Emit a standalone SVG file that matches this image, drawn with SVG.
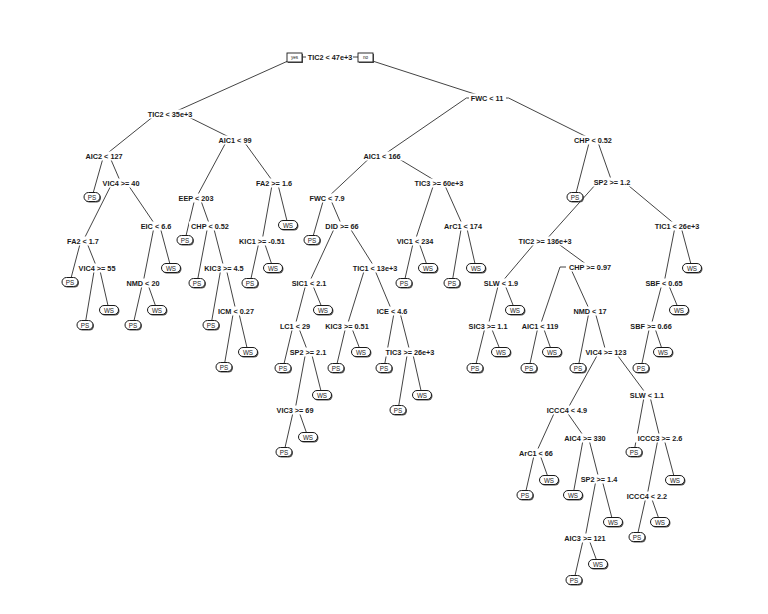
<svg xmlns="http://www.w3.org/2000/svg" xmlns:xlink="http://www.w3.org/1999/xlink" width="768" height="614" viewBox="0 0 768 614">
<style>
.lbl{font-family:"Liberation Sans",Arial,sans-serif;font-size:7.3px;font-weight:bold;text-anchor:middle;dominant-baseline:central;fill:#1a1a1a}
.bg{fill:#fff}
.lf{fill:#fff;stroke:#1a1a1a;stroke-width:1}
.sh{fill:#555}
.lt{font-family:"Liberation Sans",Arial,sans-serif;font-size:6.3px;text-anchor:middle;dominant-baseline:central;fill:#1a1a1a}
.yn{fill:#fff;stroke:#1a1a1a;stroke-width:0.9}
.ynt{font-family:"Liberation Sans",Arial,sans-serif;font-size:4.6px;text-anchor:middle;dominant-baseline:central;fill:#1a1a1a}
#edges path{fill:none;stroke:#444;stroke-width:1}
</style>
<defs>
<g id="psbox"><rect class="sh" x="-7" y="-3.5" width="16" height="9" rx="4.5"/><rect class="lf" x="-8" y="-4.5" width="16" height="9" rx="4.5"/></g>
<g id="wsbox"><rect class="sh" x="-8.5" y="-3.5" width="19" height="9" rx="4.5"/><rect class="lf" x="-9.5" y="-4.5" width="19" height="9" rx="4.5"/></g>
</defs>
<rect width="768" height="614" fill="#fff"/>
<g id="edges">
<path d="M170 114L296.8 57L360.2 57L487 98"/>
<path d="M104 156L156.4 114L182.6 114L235 140"/>
<path d="M382 156L466.4 98L508.6 98L593 140"/>
<path d="M92 197L103.6 156L109.4 156L121 183"/>
<path d="M196 198L227.2 140L242.8 140L274 183"/>
<path d="M83 241L112.2 183L126.8 183L156 226"/>
<path d="M70 282L80.8 241L86.2 241L97 268"/>
<path d="M85 325L94.6 268L99.4 268L109 310"/>
<path d="M143 283L154.2 226L159.8 226L171 268"/>
<path d="M133 325L142.6 283L147.4 283L157 310"/>
<path d="M185 240L195 198L200 198L210 226"/>
<path d="M197 283L207.8 226L213.2 226L224 268"/>
<path d="M211 325L221 268L226 268L236 311"/>
<path d="M224 367L233.6 311L238.4 311L248 352"/>
<path d="M262 241L272.4 183L277.6 183L288 225"/>
<path d="M250 283L259.2 241L263.8 241L273 268"/>
<path d="M327 198L371.8 156L394.2 156L439 183"/>
<path d="M312 240L324 198L330 198L342 226"/>
<path d="M309 283L335.4 226L348.6 226L375 268"/>
<path d="M295 326L306.2 283L311.8 283L323 310"/>
<path d="M283 368L293 326L298 326L308 352"/>
<path d="M295 410L305.8 352L311.2 352L322 395"/>
<path d="M284 452L293.6 410L298.4 410L308 437"/>
<path d="M347 326L365 268L374 268L392 311"/>
<path d="M336 368L346 326L351 326L361 352"/>
<path d="M384 368L394.4 311L399.6 311L410 352"/>
<path d="M398 410L407.6 352L412.4 352L422 395"/>
<path d="M415 241L434.2 183L443.8 183L463 226"/>
<path d="M404 283L413.6 241L418.4 241L428 268"/>
<path d="M452 283L461.6 226L466.4 226L476 268"/>
<path d="M575 197L589.8 140L597.2 140L612 182"/>
<path d="M545 241L597.8 182L624.2 182L677 226"/>
<path d="M501 283L536.6 241L554.4 241L590 267"/>
<path d="M488 326L498.8 283L504.2 283L515 310"/>
<path d="M475 368L485.4 326L490.6 326L501 352"/>
<path d="M540 326L560 267L570 267L590 311"/>
<path d="M529 368L538.2 326L542.8 326L552 352"/>
<path d="M578 368L589.2 311L594.8 311L606 352"/>
<path d="M567 410L599 352L615 352L647 395"/>
<path d="M536 453L555.6 410L565.4 410L585 438"/>
<path d="M525 495L534.6 453L539.4 453L549 480"/>
<path d="M573 495L583.4 438L588.6 438L599 479"/>
<path d="M585 538L596.2 479L601.8 479L613 522"/>
<path d="M574 580L583.6 538L588.4 538L598 564"/>
<path d="M634 452L644.4 395L649.6 395L660 438"/>
<path d="M647 496L658.2 438L663.8 438L675 480"/>
<path d="M637 537L646.2 496L650.8 496L660 522"/>
<path d="M664 283L675.2 226L680.8 226L692 268"/>
<path d="M651 326L662.2 283L667.8 283L679 310"/>
<path d="M641 368L649.8 326L654.2 326L663 352"/>
</g>
<g id="yesno">
<rect class="sh" x="288" y="54" width="15" height="9"/><rect class="yn" x="287" y="53" width="15" height="9"/><text class="ynt" x="294.5" y="57.5">yes</text>
<rect class="sh" x="359" y="54" width="15" height="9"/><rect class="yn" x="358" y="53" width="15" height="9"/><text class="ynt" x="365.5" y="57.5">no</text>
</g>
<g id="n-A"><rect class="bg" x="306" y="52.5" width="47" height="9"/><text class="lbl" x="330" y="57">TIC2 &lt; 47e+3</text></g>
<g id="n-B"><rect class="bg" x="146" y="109.5" width="48" height="9"/><text class="lbl" x="170" y="114">TIC2 &lt; 35e+3</text></g>
<g id="n-C"><rect class="bg" x="469" y="93.5" width="37" height="9"/><text class="lbl" x="487" y="98">FWC &lt; 11</text></g>
<g id="n-D"><rect class="bg" x="84" y="151.5" width="41" height="9"/><text class="lbl" x="104" y="156">AIC2 &lt; 127</text></g>
<g id="n-E"><rect class="bg" x="217" y="135.5" width="36" height="9"/><text class="lbl" x="235" y="140">AIC1 &lt; 99</text></g>
<g id="n-F"><rect class="bg" x="101" y="178.5" width="40" height="9"/><text class="lbl" x="121" y="183">VIC4 &gt;= 40</text></g>
<g id="n-G"><rect class="bg" x="65" y="236.5" width="36" height="9"/><text class="lbl" x="83" y="241">FA2 &lt; 1.7</text></g>
<g id="n-H"><rect class="bg" x="76" y="263.5" width="42" height="9"/><text class="lbl" x="97" y="268">VIC4 &gt;= 55</text></g>
<g id="n-I"><rect class="bg" x="139" y="221.5" width="35" height="9"/><text class="lbl" x="156" y="226">EIC &lt; 6.6</text></g>
<g id="n-J"><rect class="bg" x="125" y="278.5" width="36" height="9"/><text class="lbl" x="143" y="283">NMD &lt; 20</text></g>
<g id="n-K"><rect class="bg" x="177" y="193.5" width="39" height="9"/><text class="lbl" x="196" y="198">EEP &lt; 203</text></g>
<g id="n-L"><rect class="bg" x="189" y="221.5" width="42" height="9"/><text class="lbl" x="210" y="226">CHP &lt; 0.52</text></g>
<g id="n-M"><rect class="bg" x="202" y="263.5" width="44" height="9"/><text class="lbl" x="224" y="268">KIC3 &gt;= 4.5</text></g>
<g id="n-N"><rect class="bg" x="217" y="306.5" width="39" height="9"/><text class="lbl" x="236" y="311">ICM &lt; 0.27</text></g>
<g id="n-O"><rect class="bg" x="254" y="178.5" width="40" height="9"/><text class="lbl" x="274" y="183">FA2 &gt;= 1.6</text></g>
<g id="n-P"><rect class="bg" x="237" y="236.5" width="51" height="9"/><text class="lbl" x="262" y="241">KIC1 &gt;= -0.51</text></g>
<g id="n-Q"><rect class="bg" x="362" y="151.5" width="41" height="9"/><text class="lbl" x="382" y="156">AIC1 &lt; 166</text></g>
<g id="n-R"><rect class="bg" x="307" y="193.5" width="40" height="9"/><text class="lbl" x="327" y="198">FWC &lt; 7.9</text></g>
<g id="n-S"><rect class="bg" x="323" y="221.5" width="37" height="9"/><text class="lbl" x="342" y="226">DID &gt;= 66</text></g>
<g id="n-T"><rect class="bg" x="291" y="278.5" width="37" height="9"/><text class="lbl" x="309" y="283">SIC1 &lt; 2.1</text></g>
<g id="n-U"><rect class="bg" x="278" y="321.5" width="34" height="9"/><text class="lbl" x="295" y="326">LC1 &lt; 29</text></g>
<g id="n-V"><rect class="bg" x="289" y="347.5" width="39" height="9"/><text class="lbl" x="308" y="352">SP2 &gt;= 2.1</text></g>
<g id="n-W"><rect class="bg" x="274" y="405.5" width="42" height="9"/><text class="lbl" x="295" y="410">VIC3 &gt;= 69</text></g>
<g id="n-X"><rect class="bg" x="352" y="263.5" width="47" height="9"/><text class="lbl" x="375" y="268">TIC1 &lt; 13e+3</text></g>
<g id="n-Y"><rect class="bg" x="324" y="321.5" width="47" height="9"/><text class="lbl" x="347" y="326">KIC3 &gt;= 0.51</text></g>
<g id="n-Z"><rect class="bg" x="375.5" y="306.5" width="33" height="9"/><text class="lbl" x="392" y="311">ICE &lt; 4.6</text></g>
<g id="n-AA"><rect class="bg" x="384" y="347.5" width="52" height="9"/><text class="lbl" x="410" y="352">TIC3 &gt;= 26e+3</text></g>
<g id="n-AB"><rect class="bg" x="413" y="178.5" width="52" height="9"/><text class="lbl" x="439" y="183">TIC3 &gt;= 60e+3</text></g>
<g id="n-AC"><rect class="bg" x="394" y="236.5" width="41" height="9"/><text class="lbl" x="415" y="241">VIC1 &lt; 234</text></g>
<g id="n-AD"><rect class="bg" x="442" y="221.5" width="42" height="9"/><text class="lbl" x="463" y="226">ArC1 &lt; 174</text></g>
<g id="n-AE"><rect class="bg" x="572" y="135.5" width="42" height="9"/><text class="lbl" x="593" y="140">CHP &lt; 0.52</text></g>
<g id="n-AF"><rect class="bg" x="592" y="177.5" width="41" height="9"/><text class="lbl" x="612" y="182">SP2 &gt;= 1.2</text></g>
<g id="n-AG"><rect class="bg" x="517" y="236.5" width="57" height="9"/><text class="lbl" x="545" y="241">TIC2 &gt;= 136e+3</text></g>
<g id="n-AH"><rect class="bg" x="483" y="278.5" width="37" height="9"/><text class="lbl" x="501" y="283">SLW &lt; 1.9</text></g>
<g id="n-AI"><rect class="bg" x="467" y="321.5" width="42" height="9"/><text class="lbl" x="488" y="326">SIC3 &gt;= 1.1</text></g>
<g id="n-AJ"><rect class="bg" x="566" y="262.5" width="48" height="9"/><text class="lbl" x="590" y="267">CHP &gt;= 0.97</text></g>
<g id="n-AK"><rect class="bg" x="520" y="321.5" width="41" height="9"/><text class="lbl" x="540" y="326">AIC1 &lt; 119</text></g>
<g id="n-AL"><rect class="bg" x="573" y="306.5" width="35" height="9"/><text class="lbl" x="590" y="311">NMD &lt; 17</text></g>
<g id="n-AM"><rect class="bg" x="585" y="347.5" width="42" height="9"/><text class="lbl" x="606" y="352">VIC4 &gt;= 123</text></g>
<g id="n-AN"><rect class="bg" x="544" y="405.5" width="46" height="9"/><text class="lbl" x="567" y="410">ICCC4 &lt; 4.9</text></g>
<g id="n-AO"><rect class="bg" x="517" y="448.5" width="39" height="9"/><text class="lbl" x="536" y="453">ArC1 &lt; 66</text></g>
<g id="n-AP"><rect class="bg" x="562" y="433.5" width="46" height="9"/><text class="lbl" x="585" y="438">AIC4 &gt;= 330</text></g>
<g id="n-AQ"><rect class="bg" x="579" y="474.5" width="39" height="9"/><text class="lbl" x="599" y="479">SP2 &gt;= 1.4</text></g>
<g id="n-AR"><rect class="bg" x="562" y="533.5" width="46" height="9"/><text class="lbl" x="585" y="538">AIC3 &gt;= 121</text></g>
<g id="n-AS"><rect class="bg" x="628" y="390.5" width="39" height="9"/><text class="lbl" x="647" y="395">SLW &lt; 1.1</text></g>
<g id="n-AT"><rect class="bg" x="635" y="433.5" width="49" height="9"/><text class="lbl" x="660" y="438">ICCC3 &gt;= 2.6</text></g>
<g id="n-AU"><rect class="bg" x="624" y="491.5" width="45" height="9"/><text class="lbl" x="647" y="496">ICCC4 &lt; 2.2</text></g>
<g id="n-AV"><rect class="bg" x="653" y="221.5" width="49" height="9"/><text class="lbl" x="677" y="226">TIC1 &lt; 26e+3</text></g>
<g id="n-AW"><rect class="bg" x="645" y="278.5" width="39" height="9"/><text class="lbl" x="664" y="283">SBF &lt; 0.65</text></g>
<g id="n-AX"><rect class="bg" x="628" y="321.5" width="46" height="9"/><text class="lbl" x="651" y="326">SBF &gt;= 0.66</text></g>
<g id="leaf1" transform="translate(92,197)"><use xlink:href="#psbox"/><text class="lt">PS</text></g>
<g id="leaf2" transform="translate(70,282)"><use xlink:href="#psbox"/><text class="lt">PS</text></g>
<g id="leaf3" transform="translate(85,325)"><use xlink:href="#psbox"/><text class="lt">PS</text></g>
<g id="leaf4" transform="translate(109,310)"><use xlink:href="#wsbox"/><text class="lt">WS</text></g>
<g id="leaf5" transform="translate(171,268)"><use xlink:href="#wsbox"/><text class="lt">WS</text></g>
<g id="leaf6" transform="translate(133,325)"><use xlink:href="#psbox"/><text class="lt">PS</text></g>
<g id="leaf7" transform="translate(157,310)"><use xlink:href="#wsbox"/><text class="lt">WS</text></g>
<g id="leaf8" transform="translate(185,240)"><use xlink:href="#psbox"/><text class="lt">PS</text></g>
<g id="leaf9" transform="translate(197,283)"><use xlink:href="#psbox"/><text class="lt">PS</text></g>
<g id="leaf10" transform="translate(211,325)"><use xlink:href="#psbox"/><text class="lt">PS</text></g>
<g id="leaf11" transform="translate(224,367)"><use xlink:href="#psbox"/><text class="lt">PS</text></g>
<g id="leaf12" transform="translate(248,352)"><use xlink:href="#wsbox"/><text class="lt">WS</text></g>
<g id="leaf13" transform="translate(288,225)"><use xlink:href="#wsbox"/><text class="lt">WS</text></g>
<g id="leaf14" transform="translate(250,283)"><use xlink:href="#psbox"/><text class="lt">PS</text></g>
<g id="leaf15" transform="translate(273,268)"><use xlink:href="#wsbox"/><text class="lt">WS</text></g>
<g id="leaf16" transform="translate(312,240)"><use xlink:href="#psbox"/><text class="lt">PS</text></g>
<g id="leaf17" transform="translate(323,310)"><use xlink:href="#wsbox"/><text class="lt">WS</text></g>
<g id="leaf18" transform="translate(283,368)"><use xlink:href="#psbox"/><text class="lt">PS</text></g>
<g id="leaf19" transform="translate(322,395)"><use xlink:href="#wsbox"/><text class="lt">WS</text></g>
<g id="leaf20" transform="translate(284,452)"><use xlink:href="#psbox"/><text class="lt">PS</text></g>
<g id="leaf21" transform="translate(308,437)"><use xlink:href="#wsbox"/><text class="lt">WS</text></g>
<g id="leaf22" transform="translate(336,368)"><use xlink:href="#psbox"/><text class="lt">PS</text></g>
<g id="leaf23" transform="translate(361,352)"><use xlink:href="#wsbox"/><text class="lt">WS</text></g>
<g id="leaf24" transform="translate(384,368)"><use xlink:href="#psbox"/><text class="lt">PS</text></g>
<g id="leaf25" transform="translate(398,410)"><use xlink:href="#psbox"/><text class="lt">PS</text></g>
<g id="leaf26" transform="translate(422,395)"><use xlink:href="#wsbox"/><text class="lt">WS</text></g>
<g id="leaf27" transform="translate(404,283)"><use xlink:href="#psbox"/><text class="lt">PS</text></g>
<g id="leaf28" transform="translate(428,268)"><use xlink:href="#wsbox"/><text class="lt">WS</text></g>
<g id="leaf29" transform="translate(452,283)"><use xlink:href="#psbox"/><text class="lt">PS</text></g>
<g id="leaf30" transform="translate(476,268)"><use xlink:href="#wsbox"/><text class="lt">WS</text></g>
<g id="leaf31" transform="translate(575,197)"><use xlink:href="#psbox"/><text class="lt">PS</text></g>
<g id="leaf32" transform="translate(515,310)"><use xlink:href="#wsbox"/><text class="lt">WS</text></g>
<g id="leaf33" transform="translate(475,368)"><use xlink:href="#psbox"/><text class="lt">PS</text></g>
<g id="leaf34" transform="translate(501,352)"><use xlink:href="#wsbox"/><text class="lt">WS</text></g>
<g id="leaf35" transform="translate(529,368)"><use xlink:href="#psbox"/><text class="lt">PS</text></g>
<g id="leaf36" transform="translate(552,352)"><use xlink:href="#wsbox"/><text class="lt">WS</text></g>
<g id="leaf37" transform="translate(578,368)"><use xlink:href="#psbox"/><text class="lt">PS</text></g>
<g id="leaf38" transform="translate(525,495)"><use xlink:href="#psbox"/><text class="lt">PS</text></g>
<g id="leaf39" transform="translate(549,480)"><use xlink:href="#wsbox"/><text class="lt">WS</text></g>
<g id="leaf40" transform="translate(573,495)"><use xlink:href="#wsbox"/><text class="lt">WS</text></g>
<g id="leaf41" transform="translate(613,522)"><use xlink:href="#wsbox"/><text class="lt">WS</text></g>
<g id="leaf42" transform="translate(574,580)"><use xlink:href="#psbox"/><text class="lt">PS</text></g>
<g id="leaf43" transform="translate(598,564)"><use xlink:href="#wsbox"/><text class="lt">WS</text></g>
<g id="leaf44" transform="translate(634,452)"><use xlink:href="#psbox"/><text class="lt">PS</text></g>
<g id="leaf45" transform="translate(675,480)"><use xlink:href="#wsbox"/><text class="lt">WS</text></g>
<g id="leaf46" transform="translate(637,537)"><use xlink:href="#psbox"/><text class="lt">PS</text></g>
<g id="leaf47" transform="translate(660,522)"><use xlink:href="#wsbox"/><text class="lt">WS</text></g>
<g id="leaf48" transform="translate(692,268)"><use xlink:href="#wsbox"/><text class="lt">WS</text></g>
<g id="leaf49" transform="translate(641,368)"><use xlink:href="#psbox"/><text class="lt">PS</text></g>
<g id="leaf50" transform="translate(663,352)"><use xlink:href="#wsbox"/><text class="lt">WS</text></g>
<g id="leaf51" transform="translate(679,310)"><use xlink:href="#wsbox"/><text class="lt">WS</text></g>
</svg>
